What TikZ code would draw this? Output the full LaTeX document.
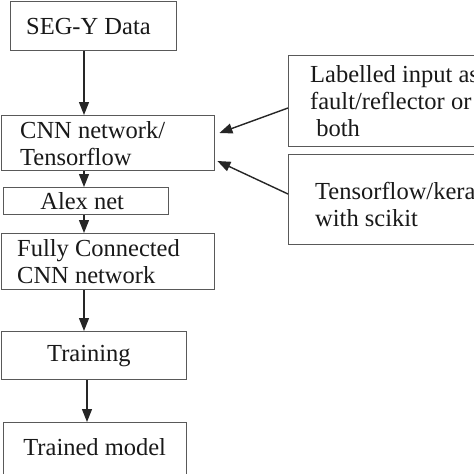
\documentclass[tikz,border=0pt]{standalone}
\usepackage{fontspec}
\setmainfont{Liberation Serif}
\usetikzlibrary{arrows.meta,calc}
\begin{document}
\begin{tikzpicture}[x=1pt,y=-1pt,
  box/.style={draw=black!65,line width=1.4pt,rectangle,inner sep=0pt,anchor=north west},
  txt/.style={inner sep=0pt,align=left,font=\fontsize{24.5}{27}\selectfont,text=black!90},
  arr/.style={draw=black!85,line width=1.4pt,-{Triangle[length=13pt,width=10pt]}}]
\useasboundingbox (0,0) rectangle (474,474);
\fill[white] (0,0) rectangle (474,474);
\node[box,minimum width=166pt,minimum height=49pt] (seg) at (10,1) {};
\node[box,minimum width=213.5pt,minimum height=55pt] (cnn) at (0.5,115) {};
\node[box,minimum width=165pt,minimum height=27pt] (alex) at (3,187) {};
\node[box,minimum width=213.5pt,minimum height=56pt] (fc) at (0.5,233) {};
\node[box,minimum width=185.5pt,minimum height=48pt] (train) at (0.5,331) {};
\node[box,minimum width=183pt,minimum height=58pt] (trained) at (3,422) {};
\node[box,minimum width=192pt,minimum height=91pt] (lab) at (288,55) {};
\node[box,minimum width=192pt,minimum height=90pt] (tf) at (288,154) {};

\node[txt,anchor=west] (tseg) at ([xshift=16pt]seg.west) {SEG-Y Data};
\node[txt,anchor=west] (tcnn) at ([xshift=19.5pt]cnn.west) {CNN network/\\Tensorflow};
\node[txt] (talex) at ([xshift=-4pt]alex.center) {Alex net};
\node[txt,anchor=west] (tfc) at ([xshift=16.5pt]fc.west) {Fully Connected\\CNN network};
\node[txt] (ttrain) at ([xshift=-5pt]train.center) {Training};
\node[txt] (ttrained) at ([xshift=-0.5pt,yshift=5pt]trained.center) {Trained model};
\node[txt,anchor=west] (tlab) at ([xshift=22pt]lab.west) {Labelled input as\\fault/reflector or\\\ both};
\node[txt,anchor=west] (ttf) at ([xshift=27pt,yshift=-4.5pt]tf.west) {Tensorflow/keras\\with scikit};

\draw[arr] ([xshift=74pt]seg.south west) -- ([xshift=83.5pt]cnn.north west);
\draw[arr] ([xshift=83.5pt]cnn.south west) -- ([xshift=81pt]alex.north west);
\draw[arr] ([xshift=81pt]alex.south west) -- ([xshift=83.5pt]fc.north west);
\draw[arr] ([xshift=83.5pt]fc.south west) -- ([xshift=83.5pt]train.north west);
\draw[arr] ([xshift=86.5pt]train.south west) -- ([xshift=84pt]trained.north west);
\draw[arr] ($(lab.north west)+(0,53)$) -- ($(cnn.north east)+(4,18)$);
\draw[arr] ($(tf.north west)+(0,40)$) -- ($(cnn.north east)+(2,46)$);
\end{tikzpicture}
\end{document}
